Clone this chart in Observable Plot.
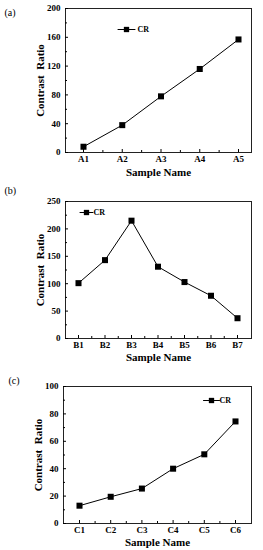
<!DOCTYPE html>
<html>
<head>
<meta charset="utf-8">
<script src="https://cdn.jsdelivr.net/npm/d3@7"></script>
<script src="https://cdn.jsdelivr.net/npm/@observablehq/plot@0.6"></script>
<style>
  html, body { margin: 0; padding: 0; background: white; }
  svg { display: block; }
</style>
</head>
<body>
<div id="chart"></div>
<script>
// ---- data ----
const catsA = ["A1", "A2", "A3", "A4", "A5"];
const valsA = [8, 38, 78, 116, 157];
const yTicksA = [0, 40, 80, 120, 160, 200];
const yMinorA = [20, 60, 100, 140, 180];

const catsB = ["B1", "B2", "B3", "B4", "B5", "B6", "B7"];
const valsB = [101, 143, 215, 131, 103, 78, 37];
const yTicksB = [0, 50, 100, 150, 200, 250];
const yMinorB = [25, 75, 125, 175, 225];

const catsC = ["C1", "C2", "C3", "C4", "C5", "C6"];
const valsC = [13, 19.5, 25.5, 40, 50.5, 74.5];
const yTicksC = [0, 20, 40, 60, 80, 100];
const yMinorC = [10, 30, 50, 70, 90];

const seriesName = "CR";
const xTitle = "Sample Name";
const yTitle = "Contrast\u00a0 Ratio";

const lineShape = {
  draw(context, l) { context.moveTo(0, 0); context.lineTo(0, -l); }
};

function panel(o) {
  const data = o.cats.map((c, i) => ({i, cat: o.cats[i], v: o.vals[i]}));
  const idx = o.cats.map((c, i) => i);
  const minorX = o.cats.slice(1).map((c, i) => i + 0.5);
  return Plot.plot({
    width: 263,
    height: o.height,
    marginLeft: o.marginLeft,
    marginRight: o.marginRight,
    marginTop: o.marginTop,
    marginBottom: o.marginBottom,
    style: {fontFamily: "'Liberation Serif', 'Times New Roman', serif", fontWeight: "bold", fontSize: "9px", color: "black", background: "white"},
    x: {type: "linear", domain: [0, o.cats.length - 1], range: o.xRange, label: null},
    y: {domain: o.yDomain, label: null},
    marks: [
      Plot.frame({stroke: "#222", strokeWidth: 1}),
      Plot.axisY(o.yTicks, {tickSize: 0, tickPadding: 5, tickFormat: d => d, label: null}),
      Plot.axisY(o.yTicks, {tickSize: 3, dx: 3, text: null, label: null}),
      Plot.axisY(o.yMinor, {tickSize: 2, dx: 2, text: null, label: null}),
      Plot.axisX(idx, {tickSize: 0, tickPadding: 3, tickFormat: i => o.cats[i], label: null}),
      Plot.axisX(idx, {tickSize: 3, dy: -3, text: null, label: null}),
      Plot.axisX(minorX, {tickSize: 2, dy: -2, text: null, label: null}),
      Plot.line(data, {x: "i", y: "v", stroke: "black", strokeWidth: 1}),
      Plot.dot(data, {x: "i", y: "v", symbol: "square", r: 3.4, fill: "black", stroke: "none"}),
      Plot.text([xTitle], {frameAnchor: "bottom", dy: o.xTitleDy, lineAnchor: "middle", textAnchor: "middle", fontSize: 11, fontWeight: "bold"}),
      Plot.text([yTitle], {frameAnchor: "left", dx: -25, rotate: -90, lineAnchor: "middle", textAnchor: "middle", fontSize: 11, fontWeight: "bold"}),
      Plot.text([o.tag], {frameAnchor: "top-left", dx: o.tagDx, dy: o.tagDy, lineAnchor: "middle", textAnchor: "start", fontSize: 10, fontWeight: "normal"}),
      Plot.vector([0], {frameAnchor: "top-left", dx: o.legDx, dy: o.legDy, length: o.legLen, rotate: 90, anchor: "middle", shape: lineShape, stroke: "black", strokeWidth: 1}),
      Plot.dot([0], {frameAnchor: "top-left", dx: o.legDx, dy: o.legDy, symbol: "square", r: 3, fill: "black", stroke: "none"}),
      Plot.text([seriesName], {frameAnchor: "top-left", dx: o.legTextDx, dy: o.legDy, lineAnchor: "middle", textAnchor: "start", fontSize: 8, fontWeight: "bold"})
    ]
  });
}

const root = document.getElementById("chart");
root.append(panel({
  cats: catsA, vals: valsA, yDomain: [0, 200], yTicks: yTicksA, yMinor: yMinorA,
  height: 183, marginTop: 8, marginBottom: 31, marginLeft: 65, marginRight: 12,
  xRange: [83, 238], xTitleDy: 20,
  tag: "(a)", tagDx: -61, tagDy: 4,
  legDx: 61, legDy: 21, legLen: 17, legTextDx: 72
}));
root.append(panel({
  cats: catsB, vals: valsB, yDomain: [0, 250], yTicks: yTicksB, yMinor: yMinorB,
  height: 183, marginTop: 18, marginBottom: 28, marginLeft: 65, marginRight: 12,
  xRange: [78, 237], xTitleDy: 19,
  tag: "(b)", tagDx: -61, tagDy: -11,
  legDx: 21, legDy: 11, legLen: 13, legTextDx: 28
}));
root.append(panel({
  cats: catsC, vals: valsC, yDomain: [0, 100], yTicks: yTicksC, yMinor: yMinorC,
  height: 184, marginTop: 20, marginBottom: 27, marginLeft: 63, marginRight: 12,
  xRange: [79, 235], xTitleDy: 19,
  tag: "(c)", tagDx: -55, tagDy: -6,
  legDx: 148, legDy: 14, legLen: 16, legTextDx: 156
}));
</script>
</body>
</html>
